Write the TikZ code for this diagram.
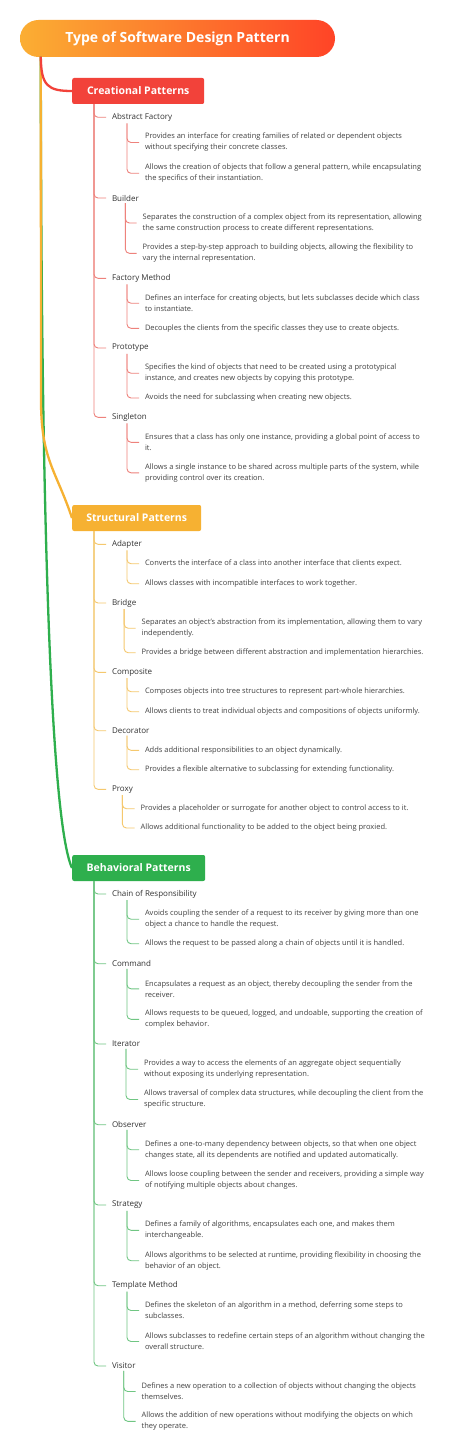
\documentclass[tikz,border=0pt]{standalone}
\usepackage{fontspec}
\setmainfont{Open Sans}
\definecolor{rootL}{HTML}{FBAE33}
\definecolor{rootR}{HTML}{FF4427}
\definecolor{creC}{HTML}{F2423A}
\definecolor{strC}{HTML}{F6B132}
\definecolor{behC}{HTML}{2EAF4D}
\definecolor{creL}{HTML}{EE827C}
\definecolor{strL}{HTML}{F5C86E}
\definecolor{behL}{HTML}{70C683}
\definecolor{labtxt}{HTML}{333333}
\definecolor{desctxt}{HTML}{424242}
\tikzset{
  lab/.style={anchor=west, inner sep=0pt, outer xsep=6pt, outer ysep=0pt, font=\fontsize{8}{10}\selectfont, text=labtxt},
  desc/.style={anchor=west, inner sep=0pt, outer xsep=6pt, outer ysep=0pt, align=left, font=\fontsize{7.5}{11}\selectfont, text=desctxt},
  catbox/.style={rectangle, rounded corners=2pt, anchor=west, minimum height=26pt, inner sep=0pt, text=white, font=\bfseries\fontsize{10.5}{12}\selectfont},
  mainline/.style={line width=2.3pt},
  thinline/.style={line width=0.9pt, rounded corners=4pt},
}
\begin{document}
\begin{tikzpicture}[x=1pt,y=-1pt]
\useasboundingbox[fill=white] (0,0) rectangle (474,1450);

% root
\node[rectangle, rounded corners=18.5pt, minimum width=315pt, minimum height=37pt, inner sep=0pt,
  left color=rootL, right color=rootR, text=white, font=\bfseries\fontsize{14}{16}\selectfont]
  (root) at (177.5,38.5) {Type of Software Design Pattern};
\coordinate (hub) at ([xshift=21pt,yshift=0.5pt]root.south west);

% category boxes
\node[catbox, fill=creC, minimum width=132pt] (cre) at (72,91) {Creational Patterns};
\node[catbox, fill=strC, minimum width=129pt] (str) at (72,518) {Structural Patterns};
\node[catbox, fill=behC, minimum width=133pt] (beh) at (72,868) {Behavioral Patterns};

% main branches
\draw[mainline, draw=behC] (hub) .. controls (41,500) and (50,820) .. (beh.west);
\draw[mainline, draw=strC] (hub) -- (41,400) .. controls (41,460) and (56,470) .. (str.west);
\draw[mainline, draw=creC] (hub) .. controls (41,86) and (48,91) .. (cre.west);

% ---------------- Creational ----------------
\node[lab] (af) at (106,117.3) {Abstract Factory};
\node[desc] (af1) at (139,142.5) {Provides an interface for creating families of related or dependent objects\\without specifying their concrete classes.};
\node[desc] (af2) at (139,173.3) {Allows the creation of objects that follow a general pattern, while encapsulating\\the specifics of their instantiation.};
\node[lab] (bu) at (106,198) {Builder};
\node[desc] (bu1) at (136.7,223) {Separates the construction of a complex object from its representation, allowing\\the same construction process to create different representations.};
\node[desc] (bu2) at (136.7,253.3) {Provides a step-by-step approach to building objects, allowing the flexibility to\\vary the internal representation.};
\node[lab] (fm) at (106,278.3) {Factory Method};
\node[desc] (fm1) at (139,303.2) {Defines an interface for creating objects, but lets subclasses decide which class\\to instantiate.};
\node[desc] (fm2) at (139,328.3) {Decouples the clients from the specific classes they use to create objects.};
\node[lab] (pr) at (106,348) {Prototype};
\node[desc] (pr1) at (139,373.2) {Specifies the kind of objects that need to be created using a prototypical\\instance, and creates new objects by copying this prototype.};
\node[desc] (pr2) at (139,398) {Avoids the need for subclassing when creating new objects.};
\node[lab] (si) at (106,417.3) {Singleton};
\node[desc] (si1) at (139,442.3) {Ensures that a class has only one instance, providing a global point of access to\\it.};
\node[desc] (si2) at (139,472.8) {Allows a single instance to be shared across multiple parts of the system, while\\providing control over its creation.};

\foreach \n in {af,bu,fm,pr,si}
  \draw[thinline, draw=creL] ([xshift=22pt]cre.south west) |- (\n.west);
\foreach \p/\a/\b in {af/af1/af2,fm/fm1/fm2,pr/pr1/pr2,si/si1/si2}{
  \draw[thinline, draw=creL] ([xshift=21pt,yshift=-2pt]\p.south west) |- (\a.west);
  \draw[thinline, draw=creL] ([xshift=21pt,yshift=-2pt]\p.south west) |- (\b.west);
}
\draw[thinline, draw=creL] ([yshift=-2pt]bu.south) |- (bu1.west);
\draw[thinline, draw=creL] ([yshift=-2pt]bu.south) |- (bu2.west);

% ---------------- Structural ----------------
\node[lab] (ad) at (106,544.3) {Adapter};
\node[desc] (ad1) at (139,563.7) {Converts the interface of a class into another interface that clients expect.};
\node[desc] (ad2) at (139,583.7) {Allows classes with incompatible interfaces to work together.};
\node[lab] (br) at (106,603) {Bridge};
\node[desc] (br1) at (135.7,628.2) {Separates an object's abstraction from its implementation, allowing them to vary\\independently.};
\node[desc] (br2) at (135.7,652.7) {Provides a bridge between different abstraction and implementation hierarchies.};
\node[lab] (co) at (106,672.3) {Composite};
\node[desc] (co1) at (139,691.7) {Composes objects into tree structures to represent part-whole hierarchies.};
\node[desc] (co2) at (139,711.7) {Allows clients to treat individual objects and compositions of objects uniformly.};
\node[lab] (de) at (106,730.7) {Decorator};
\node[desc] (de1) at (139,750.3) {Adds additional responsibilities to an object dynamically.};
\node[desc] (de2) at (139,769.7) {Provides a flexible alternative to subclassing for extending functionality.};
\node[lab] (px) at (106,789.3) {Proxy};
\node[desc] (px1) at (134.7,808.7) {Provides a placeholder or surrogate for another object to control access to it.};
\node[desc] (px2) at (134.7,828) {Allows additional functionality to be added to the object being proxied.};

\foreach \n in {ad,br,co,de,px}
  \draw[thinline, draw=strL] ([xshift=22pt]str.south west) |- (\n.west);
\foreach \p/\a/\b in {ad/ad1/ad2,co/co1/co2,de/de1/de2}{
  \draw[thinline, draw=strL] ([xshift=21pt,yshift=-2pt]\p.south west) |- (\a.west);
  \draw[thinline, draw=strL] ([xshift=21pt,yshift=-2pt]\p.south west) |- (\b.west);
}
\foreach \p/\a/\b in {br/br1/br2,px/px1/px2}{
  \draw[thinline, draw=strL] ([yshift=-2pt]\p.south) |- (\a.west);
  \draw[thinline, draw=strL] ([yshift=-2pt]\p.south) |- (\b.west);
}

% ---------------- Behavioral ----------------
\node[lab] (cr) at (106,894) {Chain of Responsibility};
\node[desc] (cr1) at (139,919.2) {Avoids coupling the sender of a request to its receiver by giving more than one\\object a chance to handle the request.};
\node[desc] (cr2) at (139,943.7) {Allows the request to be passed along a chain of objects until it is handled.};
\node[lab] (cm) at (106,963.7) {Command};
\node[desc] (cm1) at (139,988.8) {Encapsulates a request as an object, thereby decoupling the sender from the\\receiver.};
\node[desc] (cm2) at (139,1019.3) {Allows requests to be queued, logged, and undoable, supporting the creation of\\complex behavior.};
\node[lab] (it) at (106,1044) {Iterator};
\node[desc] (it1) at (138,1069.2) {Provides a way to access the elements of an aggregate object sequentially\\without exposing its underlying representation.};
\node[desc] (it2) at (138,1099.5) {Allows traversal of complex data structures, while decoupling the client from the\\specific structure.};
\node[lab] (ob) at (106,1124.7) {Observer};
\node[desc] (ob1) at (139,1149.7) {Defines a one-to-many dependency between objects, so that when one object\\changes state, all its dependents are notified and updated automatically.};
\node[desc] (ob2) at (139,1180.5) {Allows loose coupling between the sender and receivers, providing a simple way\\of notifying multiple objects about changes.};
\node[lab] (st) at (106,1205) {Strategy};
\node[desc] (st1) at (139,1230.3) {Defines a family of algorithms, encapsulates each one, and makes them\\interchangeable.};
\node[desc] (st2) at (139,1260.7) {Allows algorithms to be selected at runtime, providing flexibility in choosing the\\behavior of an object.};
\node[lab] (tm) at (106,1285.7) {Template Method};
\node[desc] (tm1) at (139,1310.5) {Defines the skeleton of an algorithm in a method, deferring some steps to\\subclasses.};
\node[desc] (tm2) at (139,1341.5) {Allows subclasses to redefine certain steps of an algorithm without changing the\\overall structure.};
\node[lab] (vi) at (106,1366) {Visitor};
\node[desc] (vi1) at (135.7,1391.5) {Defines a new operation to a collection of objects without changing the objects\\themselves.};
\node[desc] (vi2) at (135.7,1421.3) {Allows the addition of new operations without modifying the objects on which\\they operate.};

\foreach \n in {cr,cm,it,ob,st,tm,vi}
  \draw[thinline, draw=behL] ([xshift=22pt]beh.south west) |- (\n.west);
\foreach \p/\a/\b in {cr/cr1/cr2,cm/cm1/cm2,ob/ob1/ob2,st/st1/st2,tm/tm1/tm2}{
  \draw[thinline, draw=behL] ([xshift=21pt,yshift=-2pt]\p.south west) |- (\a.west);
  \draw[thinline, draw=behL] ([xshift=21pt,yshift=-2pt]\p.south west) |- (\b.west);
}
\foreach \p/\a/\b in {it/it1/it2,vi/vi1/vi2}{
  \draw[thinline, draw=behL] ([yshift=-2pt]\p.south) |- (\a.west);
  \draw[thinline, draw=behL] ([yshift=-2pt]\p.south) |- (\b.west);
}
\end{tikzpicture}
\end{document}
